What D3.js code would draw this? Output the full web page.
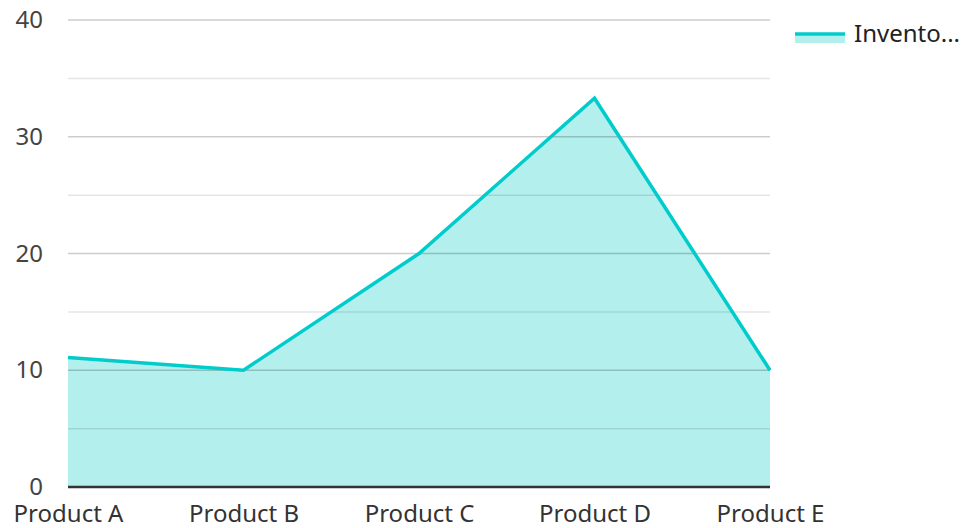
<!DOCTYPE html>
<html><head><meta charset="utf-8">
<script src="https://cdn.jsdelivr.net/npm/d3@7"></script>
<style>body{margin:0;background:#fff}svg{display:block;font-family:"Noto Sans",sans-serif}</style>
</head><body><svg id="c" width="967" height="528"></svg>
<script>
const categories = ["Product A","Product B","Product C","Product D","Product E"];
const values = [11.1, 10, 20, 33.3, 10];
const seriesName = "Inventory";
const yTicks = [0,10,20,30,40];
const yMinorTicks = [5,15,25,35];

const svg = d3.select("#c");
const m = {l:68, r:197, t:20, b:41};
const W = 967, H = 528;
const x = d3.scalePoint().domain(categories).range([m.l, W - m.r]).padding(0);
const y = d3.scaleLinear().domain([0,40]).range([H - m.b, m.t]);

const area = d3.area().x((d,i)=>x(categories[i])).y0(y(0)).y1(d=>y(d));
const line = d3.line().x((d,i)=>x(categories[i])).y(d=>y(d));

svg.append("path").datum(values).attr("d", area).attr("fill","#b2efed");

// grid
svg.append("g").selectAll("line").data(yMinorTicks).join("line")
  .attr("x1", m.l).attr("x2", W - m.r).attr("y1", d=>y(d)).attr("y2", d=>y(d))
  .attr("stroke","rgba(0,0,0,0.1)").attr("stroke-width",1.5);
svg.append("g").selectAll("line").data(yTicks.filter(d=>d>0)).join("line")
  .attr("x1", m.l).attr("x2", W - m.r).attr("y1", d=>y(d)).attr("y2", d=>y(d))
  .attr("stroke","rgba(0,0,0,0.2)").attr("stroke-width",1.5);

svg.append("path").datum(values).attr("d", line).attr("fill","none")
  .attr("stroke","#00cccc").attr("stroke-width",3.5).attr("stroke-linejoin","miter");

// x axis line
svg.append("line").attr("x1", m.l).attr("x2", W - m.r).attr("y1", y(0)).attr("y2", y(0))
  .attr("stroke","#333").attr("stroke-width",2.5);

// y labels
const yAxis = d3.axisLeft(y).tickValues(yTicks).tickSize(0).tickPadding(0);
const gy = svg.append("g").attr("transform",`translate(${m.l-25},0)`).call(yAxis);
gy.select(".domain").remove();
gy.selectAll("text").attr("font-size",24).attr("fill","#444").attr("font-family","'Noto Sans',sans-serif");

// x labels
const xAxis = d3.axisBottom(x).tickSize(0).tickPadding(0);
const gx = svg.append("g").attr("transform",`translate(0,${y(0)+18})`).call(xAxis);
gx.select(".domain").remove();
gx.selectAll("text").attr("font-size",24).attr("fill","#333").attr("font-family","'Noto Sans',sans-serif");

// legend
const lg = svg.append("g").attr("transform","translate(795,34)");
lg.append("rect").attr("x",0).attr("y",0).attr("width",50).attr("height",9).attr("fill","#b2efed");
lg.append("line").attr("x1",0).attr("x2",50).attr("y1",0).attr("y2",0).attr("stroke","#00cccc").attr("stroke-width",3.5);
lg.append("text").attr("x",59).attr("y",0).attr("dy","0.35em").attr("font-size",24).attr("fill","#222")
  .text(seriesName.slice(0,7) + "...");
</script></body></html>
